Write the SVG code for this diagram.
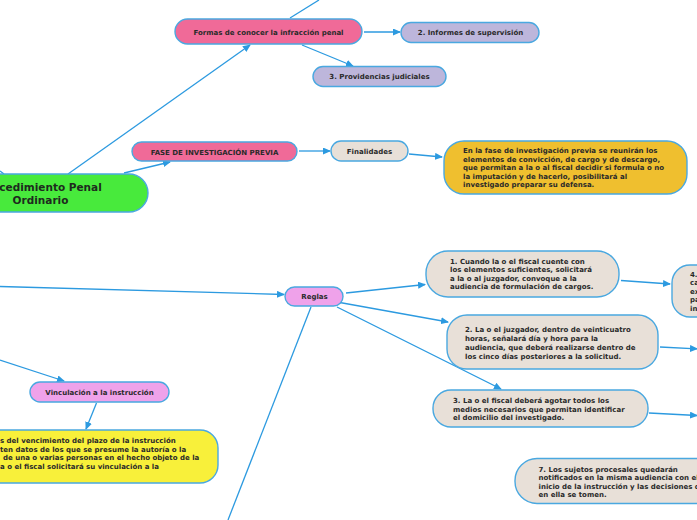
<svg xmlns="http://www.w3.org/2000/svg" width="697" height="520" viewBox="0 0 697 520">
<defs>
<marker id="arr" markerWidth="8" markerHeight="7" refX="7" refY="3.5" orient="auto" markerUnits="userSpaceOnUse">
<path d="M0,0 L8,3.5 L0,7 Z" fill="#2C9AE0"/>
</marker>
<style>
.n{stroke:#4AA8E0;stroke-width:1.4}
.t{font-family:"DejaVu Sans",Verdana,sans-serif;font-weight:bold;font-size:7px;fill:#2a2a2a}
.c{text-anchor:middle}
.pink{fill:#F06A98}
.lav{fill:#BDB6DB}
.beige{fill:#E8E0D8}
.vio{fill:#EFA2EA}
.e path,.e line{stroke:#2C9AE0;stroke-width:1.3;fill:none}
</style>
</defs>
<rect width="697" height="520" fill="#ffffff"/>

<g id="connectors" class="e">
<line x1="68" y1="174" x2="250" y2="45" marker-end="url(#arr)"/>
<line x1="290" y1="18" x2="319" y2="0"/>
<line x1="0" y1="171" x2="4" y2="174"/>
<line x1="124" y1="173" x2="170" y2="162" marker-end="url(#arr)"/>
<line x1="364" y1="32" x2="400" y2="32" marker-end="url(#arr)"/>
<line x1="302" y1="45" x2="353" y2="66" marker-end="url(#arr)"/>
<line x1="299" y1="151" x2="330" y2="151" marker-end="url(#arr)"/>
<line x1="409" y1="154" x2="442" y2="157" marker-end="url(#arr)"/>
<line x1="0" y1="286.5" x2="284" y2="294.5" marker-end="url(#arr)"/>
<line x1="346" y1="293" x2="425" y2="284.5" marker-end="url(#arr)"/>
<line x1="337" y1="302" x2="448" y2="322" marker-end="url(#arr)"/>
<line x1="337" y1="307" x2="501" y2="389" marker-end="url(#arr)"/>
<line x1="311" y1="307" x2="228" y2="520"/>
<line x1="621" y1="280.5" x2="670" y2="284" marker-end="url(#arr)"/>
<line x1="660" y1="347" x2="697" y2="348.8" marker-end="url(#arr)"/>
<line x1="649" y1="413" x2="697" y2="415.5" marker-end="url(#arr)"/>
<line x1="0" y1="360" x2="64" y2="381" marker-end="url(#arr)"/>
<line x1="96.5" y1="403" x2="86" y2="429" marker-end="url(#arr)"/>
</g>

<g id="main">
<rect class="n" x="-70" y="174" width="218" height="38" rx="19" fill="#48EA3C"/>
<text class="t c" x="40.5" y="190.5" style="font-size:10.5px;fill:#1e2a1e">Procedimiento Penal</text>
<text class="t c" x="40.5" y="204.3" style="font-size:10.5px;fill:#1e2a1e">Ordinario</text>
</g>

<g id="formas">
<rect class="n pink" x="175" y="19" width="187" height="25" rx="12.5"/>
<text class="t c" x="268.5" y="34.5">Formas de conocer la infracción penal</text>
</g>

<g id="informes">
<rect class="n lav" x="401" y="22.5" width="138" height="20" rx="10"/>
<text class="t c" x="470.5" y="35">2. Informes de supervisión</text>
</g>

<g id="providencias">
<rect class="n lav" x="313" y="66.5" width="133" height="20" rx="10"/>
<text class="t c" x="379.5" y="79">3. Providencias judiciales</text>
</g>

<g id="fase">
<rect class="n pink" x="132" y="142" width="165" height="19" rx="9.5"/>
<text class="t c" x="214.5" y="154.5">FASE DE INVESTIGACIÓN PREVIA</text>
</g>

<g id="finalidades">
<rect class="n beige" x="331" y="141" width="77" height="20" rx="10"/>
<text class="t c" x="369.5" y="153.5">Finalidades</text>
</g>

<g id="finalidad-texto">
<rect class="n" x="444" y="141" width="243" height="53" rx="20" fill="#EFBF2F"/>
<text class="t" x="463" y="153">En la fase de investigación previa se reunirán los</text>
<text class="t" x="463" y="161.5">elementos de convicción, de cargo y de descargo,</text>
<text class="t" x="463" y="170">que permitan a la o al fiscal decidir si formula o no</text>
<text class="t" x="463" y="178.5">la imputación y de hacerlo, posibilitará al</text>
<text class="t" x="463" y="187">investigado preparar su defensa.</text>
</g>

<g id="reglas">
<rect class="n vio" x="285" y="287" width="58" height="19" rx="9.5"/>
<text class="t c" x="314.5" y="299">Reglas</text>
</g>

<g id="regla1">
<rect class="n beige" x="426" y="251" width="193" height="46" rx="22"/>
<text class="t" x="450" y="263.5">1. Cuando la o el fiscal cuente con</text>
<text class="t" x="450" y="272">los elementos suficientes, solicitará</text>
<text class="t" x="450" y="280.5">a la o al juzgador, convoque a la</text>
<text class="t" x="450" y="289">audiencia de formulación de cargos.</text>
</g>

<g id="regla4">
<rect class="n beige" x="672" y="265" width="60" height="52" rx="18"/>
<text class="t" x="690" y="276.5">4.</text>
<text class="t" x="690" y="285">ca</text>
<text class="t" x="690" y="293.5">ex</text>
<text class="t" x="690" y="302">pa</text>
<text class="t" x="690" y="310.5">in</text>
</g>

<g id="regla2">
<rect class="n beige" x="447" y="315" width="211" height="54" rx="20"/>
<text class="t" x="465" y="332.3">2. La o el juzgador, dentro de veinticuatro</text>
<text class="t" x="465" y="341">horas, señalará día y hora para la</text>
<text class="t" x="465" y="349.7">audiencia, que deberá realizarse dentro de</text>
<text class="t" x="465" y="358.5">los cinco días posteriores a la solicitud.</text>
</g>

<g id="regla3">
<rect class="n beige" x="433" y="390" width="215" height="37" rx="18"/>
<text class="t" x="453" y="403">3. La o el fiscal deberá agotar todos los</text>
<text class="t" x="453" y="411.5">medios necesarios que permitan identificar</text>
<text class="t" x="453" y="420">el domicilio del investigado.</text>
</g>

<g id="regla7">
<rect class="n beige" x="515" y="458.5" width="230" height="45" rx="22"/>
<text class="t" x="538.5" y="471.5">7. Los sujetos procesales quedarán</text>
<text class="t" x="538.5" y="480">notificados en la misma audiencia con el</text>
<text class="t" x="538.5" y="488.5">inicio de la instrucción y las decisiones que</text>
<text class="t" x="538.5" y="497">en ella se tomen.</text>
</g>

<g id="vinculacion">
<rect class="n vio" x="30" y="382" width="139" height="20" rx="10"/>
<text class="t c" x="99.5" y="394.5">Vinculación a la instrucción</text>
</g>

<g id="vinculacion-texto">
<rect class="n" x="-40" y="430" width="258" height="53" rx="18" fill="#F8F03A"/>
<text class="t" x="0" y="443">s del vencimiento del plazo de la instrucción</text>
<text class="t" x="0" y="451.5">ten datos de los que se presume la autoría o la</text>
<text class="t" x="3" y="460">de una o varias personas en el hecho objeto de la</text>
<text class="t" x="0" y="468.5">a o el fiscal solicitará su vinculación a la</text>
</g>
</svg>
